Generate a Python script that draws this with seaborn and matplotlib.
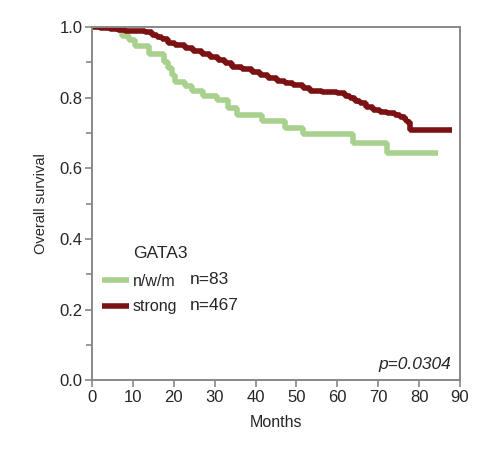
import pandas as pd
import matplotlib.pyplot as plt
import seaborn as sns
from matplotlib.lines import Line2D

# Kaplan-Meier steps (months, survival)
months_nwm = [0, 7.3, 9.0, 10.5, 13.9, 17.6, 18.6, 19.6, 20.3, 22.7, 24.4, 27.1,
              30.6, 33.2, 35.5, 41.6, 47.2, 51.6, 63.8, 72.1, 84.6]
surv_nwm = [1.0, 0.976, 0.963, 0.946, 0.924, 0.900, 0.884, 0.864, 0.844, 0.833, 0.819, 0.805,
            0.793, 0.770, 0.750, 0.734, 0.714, 0.697, 0.671, 0.643, 0.643]

months_strong = [0, 2.0, 4.4, 6.4, 8.0, 10.5, 13.0, 14.7, 16.0, 17.0, 18.6, 20.3, 22.7,
                 24.7, 26.9, 28.9, 30.8, 32.5, 34.2, 36.7, 39.1, 41.0, 43.0, 45.2, 47.2,
                 49.1, 51.6, 53.3, 56.2, 59.9, 61.9, 63.1, 64.3, 65.5, 67.0, 68.7, 70.4,
                 72.1, 74.1, 75.3, 76.5, 77.0, 77.7, 88.0]
surv_strong = [1.0, 0.997, 0.995, 0.992, 0.990, 0.988, 0.985, 0.978, 0.972, 0.965, 0.955,
               0.948, 0.940, 0.932, 0.923, 0.915, 0.907, 0.897, 0.887, 0.880, 0.873, 0.864,
               0.855, 0.848, 0.841, 0.836, 0.827, 0.820, 0.816, 0.813, 0.806, 0.800, 0.792,
               0.785, 0.775, 0.765, 0.760, 0.756, 0.750, 0.745, 0.738, 0.731, 0.708, 0.708]

groups = ['n/w/m', 'strong']
counts = ['n=83', 'n=467']
colors = {'n/w/m': '#A9D18E', 'strong': '#7B1113'}

df = pd.concat([
    pd.DataFrame({'Months': months_nwm, 'Survival': surv_nwm, 'Group': 'n/w/m'}),
    pd.DataFrame({'Months': months_strong, 'Survival': surv_strong, 'Group': 'strong'}),
])

sns.set_style("ticks")
plt.rcParams['font.family'] = ['Liberation Sans', 'DejaVu Sans']

fig = plt.figure(figsize=(5, 4.51), dpi=100)
ax = fig.add_axes([0.184, 0.157, 0.736, 0.783])

sns.lineplot(data=df, x='Months', y='Survival', hue='Group', palette=colors,
             estimator=None, drawstyle='steps-post', linewidth=4, legend=False, ax=ax,
             solid_joinstyle='bevel', solid_capstyle='butt')

ax.set_xlim(0, 90)
ax.set_ylim(0, 1.0)
ax.set_xticks(range(0, 91, 10))
ax.set_yticks([0, 0.2, 0.4, 0.6, 0.8, 1.0])
ax.set_yticks([0.1, 0.3, 0.5, 0.7, 0.9], minor=True)
ax.set_yticklabels(['0.0', '0.2', '0.4', '0.6', '0.8', '1.0'])
ax.tick_params(axis='both', which='major', direction='out', length=5, width=1.2,
               color='#888888', labelsize=12, pad=2)
ax.tick_params(axis='y', which='minor', direction='out', length=4, width=1.2, color='#888888')
for s in ax.spines.values():
    s.set_visible(True)
    s.set_color('#888888')
    s.set_linewidth(1.4)

ax.set_xlabel('Months', fontsize=11.5, labelpad=7)
ax.set_ylabel('Overall survival', fontsize=10.5, labelpad=8)

handles = [Line2D([], [], color=colors[g], linewidth=4, solid_capstyle='butt') for g in groups]
ax.legend(handles, groups, loc='upper left', bbox_to_anchor=(0.0, 0.328), frameon=False,
          fontsize=11.5, handlelength=1.7, handletextpad=0.25, labelspacing=0.65,
          borderaxespad=0.2)
ax.text(0.113, 0.36, 'GATA3', transform=ax.transAxes, fontsize=12.5, va='center')
ax.text(0.267, 0.286, counts[0], transform=ax.transAxes, fontsize=12.5, va='center')
ax.text(0.267, 0.212, counts[1], transform=ax.transAxes, fontsize=12.5, va='center')

ax.text(0.975, 0.045, 'p=0.0304', transform=ax.transAxes, fontsize=12.5,
        style='italic', ha='right', va='center')

fig.savefig('out.png', dpi=100)
